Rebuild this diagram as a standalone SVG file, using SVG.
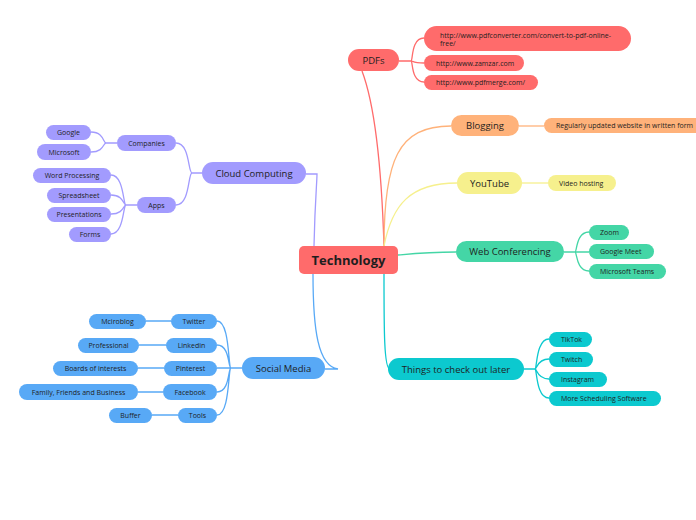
<svg xmlns="http://www.w3.org/2000/svg" width="696" height="520" viewBox="0 0 696 520">
<style>
text{font-family:"Open Sans","Noto Sans","DejaVu Sans",sans-serif;fill:#1e1e1e}
.t1{font-size:9.5px;text-anchor:middle;dominant-baseline:central}
.t2{font-size:7px;dominant-baseline:central}
.tc{font-size:7px;text-anchor:middle;dominant-baseline:central}
.c{fill:none;stroke-width:1.3}
.red{fill:#FF6B6B}.org{fill:#FFB27A}.yel{fill:#F6F08D}.grn{fill:#44D6A6}.teal{fill:#0CC9CF}.pur{fill:#A29BFE}.blu{fill:#58A9F6}
.sred{stroke:#FF6B6B}.sorg{stroke:#FFB27A}.syel{stroke:#F6F08D}.sgrn{stroke:#44D6A6}.steal{stroke:#0CC9CF}.spur{stroke:#A29BFE}.sblu{stroke:#58A9F6}
</style>
<rect width="696" height="520" fill="#ffffff"/>
<g id="connectors">
  <path class="c sred" d="M384,246 C381,150 373,100 362,71"/>
  <path class="c sorg" d="M384,246 C384,160 398,126 451,126"/>
  <path class="c syel" d="M384,246 C392,205 410,183 457,183"/>
  <path class="c sgrn" d="M398,255 C420,253 430,252 456,252"/>
  <path class="c steal" d="M384,274 C384,330 384,369 390,369"/>
  <path class="c spur" d="M314,246 C315,200 317,182 317,174 L306,174"/>
  <path class="c sblu" d="M313,274 C313,330 318,366 338,369 L325,369"/>
  <!-- PDFs -->
  <path class="c sred" d="M399,61 L411,61 C413,61 411,38 424,38 M411,61 C413,61 413,63 424,63 M411,61 C413,61 411,82 424,82"/>
  <path class="c sorg" d="M519,126 L544,126"/>
  <path class="c syel" d="M522,183 L548,183"/>
  <path class="c sgrn" d="M564,252 L575,252 C577,252 576,232 589,232 M575,252 L589,252 M575,252 C577,252 576,271 589,271"/>
  <path class="c steal" d="M524,369 L535,369 C537,369 536,339 549,339 M535,369 C537,369 537,359 549,359 M535,369 C537,369 537,379 549,379 M535,369 C537,369 536,398 549,398"/>
  <!-- Cloud -->
  <path class="c spur" d="M202,173 L192,173 C188,173 190,143 176,143 M192,173 C188,173 190,205 176,205"/>
  <path class="c spur" d="M117,143 L106,143 C103,143 104,132 91,132 M106,143 C103,143 104,152 91,152"/>
  <path class="c spur" d="M137,205 L126,205 C123,205 124,175 111,175 M126,205 C123,205 124,195 111,195 M126,205 C123,205 124,214 111,214 M126,205 C123,205 124,234 111,234"/>
  <!-- Social -->
  <path class="c sblu" d="M242,368 L231,368 C228,368 230,321 217,321 M231,368 C228,368 230,345 217,345 M231,368 L217,368 M231,368 C228,368 230,392 217,392 M231,368 C228,368 230,415 217,415"/>
  <path class="c sblu" d="M146,321 L171,321 M139,345 L166,345 M138,368 L164,368 M138,392 L163,392 M152,415 L178,415"/>
</g>
<g id="technology"><rect x="299" y="246" width="99" height="28" rx="5" class="red"/><text x="348.5" y="260" font-size="13" font-weight="bold" text-anchor="middle" dominant-baseline="central">Technology</text></g>

<g id="pdfs"><rect x="348" y="49" width="51" height="22" rx="11" class="red"/><text class="t1" x="373.5" y="60">PDFs</text></g>
<g id="pdf1"><rect x="424" y="26" width="207" height="25" rx="12.5" class="red"/><text x="440" y="37.5" font-size="7">http://www.pdfconverter.com/convert-to-pdf-online-</text><text x="440" y="46" font-size="7">free/</text></g>
<g id="pdf2"><rect x="424" y="55" width="100" height="16" rx="8" class="red"/><text class="t2" x="436" y="63">http://www.zamzar.com</text></g>
<g id="pdf3"><rect x="424" y="75" width="114" height="15" rx="7.5" class="red"/><text class="t2" x="436" y="82.5">http://www.pdfmerge.com/</text></g>

<g id="blogging"><rect x="451" y="115" width="68" height="21" rx="10.5" class="org"/><text class="t1" x="485" y="125.5">Blogging</text></g>
<g id="blog1"><rect x="544" y="118" width="180" height="15" rx="7.5" class="org"/><text class="t2" x="556" y="125.5">Regularly updated website in written form</text></g>

<g id="youtube"><rect x="457" y="172" width="65" height="22" rx="11" class="yel"/><text class="t1" x="489.5" y="183">YouTube</text></g>
<g id="yt1"><rect x="548" y="175" width="68" height="16" rx="8" class="yel"/><text class="t2" x="559" y="183">Video hosting</text></g>

<g id="webconf"><rect x="456" y="241" width="108" height="21" rx="10.5" class="grn"/><text class="t1" x="510" y="251.5">Web Conferencing</text></g>
<g id="zoom"><rect x="589" y="225" width="40" height="15" rx="7.5" class="grn"/><text class="t2" x="600" y="232.5">Zoom</text></g>
<g id="gmeet"><rect x="589" y="244" width="65" height="15" rx="7.5" class="grn"/><text class="t2" x="600" y="251.5">Google Meet</text></g>
<g id="teams"><rect x="589" y="264" width="77" height="15" rx="7.5" class="grn"/><text class="t2" x="600" y="271.5">Microsoft Teams</text></g>

<g id="things"><rect x="388" y="358" width="136" height="22" rx="11" class="teal"/><text class="t1" x="456" y="369">Things to check out later</text></g>
<g id="tiktok"><rect x="549" y="332" width="43" height="15" rx="7.5" class="teal"/><text class="t2" x="561" y="339.5">TikTok</text></g>
<g id="twitch"><rect x="549" y="352" width="44" height="15" rx="7.5" class="teal"/><text class="t2" x="561" y="359.5">Twitch</text></g>
<g id="instagram"><rect x="549" y="372" width="58" height="15" rx="7.5" class="teal"/><text class="t2" x="561" y="379.5">Instagram</text></g>
<g id="moresched"><rect x="549" y="391" width="112" height="15" rx="7.5" class="teal"/><text class="t2" x="561" y="398.5">More Scheduling Software</text></g>

<g id="cloud"><rect x="202" y="162" width="104" height="22" rx="11" class="pur"/><text class="t1" x="254" y="173">Cloud Computing</text></g>
<g id="companies"><rect x="117" y="135" width="59" height="16" rx="8" class="pur"/><text class="tc" x="146.5" y="143">Companies</text></g>
<g id="google"><rect x="46" y="125" width="45" height="15" rx="7.5" class="pur"/><text class="tc" x="68.5" y="132.5">Google</text></g>
<g id="microsoft"><rect x="37" y="144" width="54" height="16" rx="8" class="pur"/><text class="tc" x="64" y="152">Microsoft</text></g>
<g id="apps"><rect x="137" y="197" width="39" height="16" rx="8" class="pur"/><text class="tc" x="156.5" y="205">Apps</text></g>
<g id="wordproc"><rect x="33" y="168" width="78" height="15" rx="7.5" class="pur"/><text class="tc" x="72" y="175.5">Word Processing</text></g>
<g id="spreadsheet"><rect x="47" y="188" width="64" height="15" rx="7.5" class="pur"/><text class="tc" x="79" y="195.5">Spreadsheet</text></g>
<g id="presentations"><rect x="47" y="207" width="64" height="15" rx="7.5" class="pur"/><text class="tc" x="79" y="214.5">Presentations</text></g>
<g id="forms"><rect x="69" y="227" width="42" height="15" rx="7.5" class="pur"/><text class="tc" x="90" y="234.5">Forms</text></g>

<g id="social"><rect x="242" y="357" width="83" height="22" rx="11" class="blu"/><text class="t1" x="283.5" y="368">Social Media</text></g>
<g id="twitter"><rect x="171" y="314" width="46" height="15" rx="7.5" class="blu"/><text class="tc" x="194" y="321.5">Twitter</text></g>
<g id="linkedin"><rect x="166" y="338" width="51" height="15" rx="7.5" class="blu"/><text class="tc" x="191.5" y="345.5">Linkedin</text></g>
<g id="pinterest"><rect x="164" y="361" width="53" height="15" rx="7.5" class="blu"/><text class="tc" x="190.5" y="368.5">Pinterest</text></g>
<g id="facebook"><rect x="163" y="384" width="54" height="16" rx="8" class="blu"/><text class="tc" x="190" y="392">Facebook</text></g>
<g id="tools"><rect x="178" y="408" width="39" height="15" rx="7.5" class="blu"/><text class="tc" x="197.5" y="415.5">Tools</text></g>
<g id="mciroblog"><rect x="89" y="314" width="57" height="15" rx="7.5" class="blu"/><text class="tc" x="117.5" y="321.5">Mciroblog</text></g>
<g id="professional"><rect x="78" y="338" width="61" height="15" rx="7.5" class="blu"/><text class="tc" x="108.5" y="345.5">Professional</text></g>
<g id="boards"><rect x="53" y="361" width="85" height="15" rx="7.5" class="blu"/><text class="tc" x="95.5" y="368.5">Boards of interests</text></g>
<g id="family"><rect x="19" y="384" width="119" height="16" rx="8" class="blu"/><text class="tc" x="78.5" y="392">Family, Friends and Business</text></g>
<g id="buffer"><rect x="109" y="408" width="43" height="15" rx="7.5" class="blu"/><text class="tc" x="130.5" y="415.5">Buffer</text></g>
</svg>
